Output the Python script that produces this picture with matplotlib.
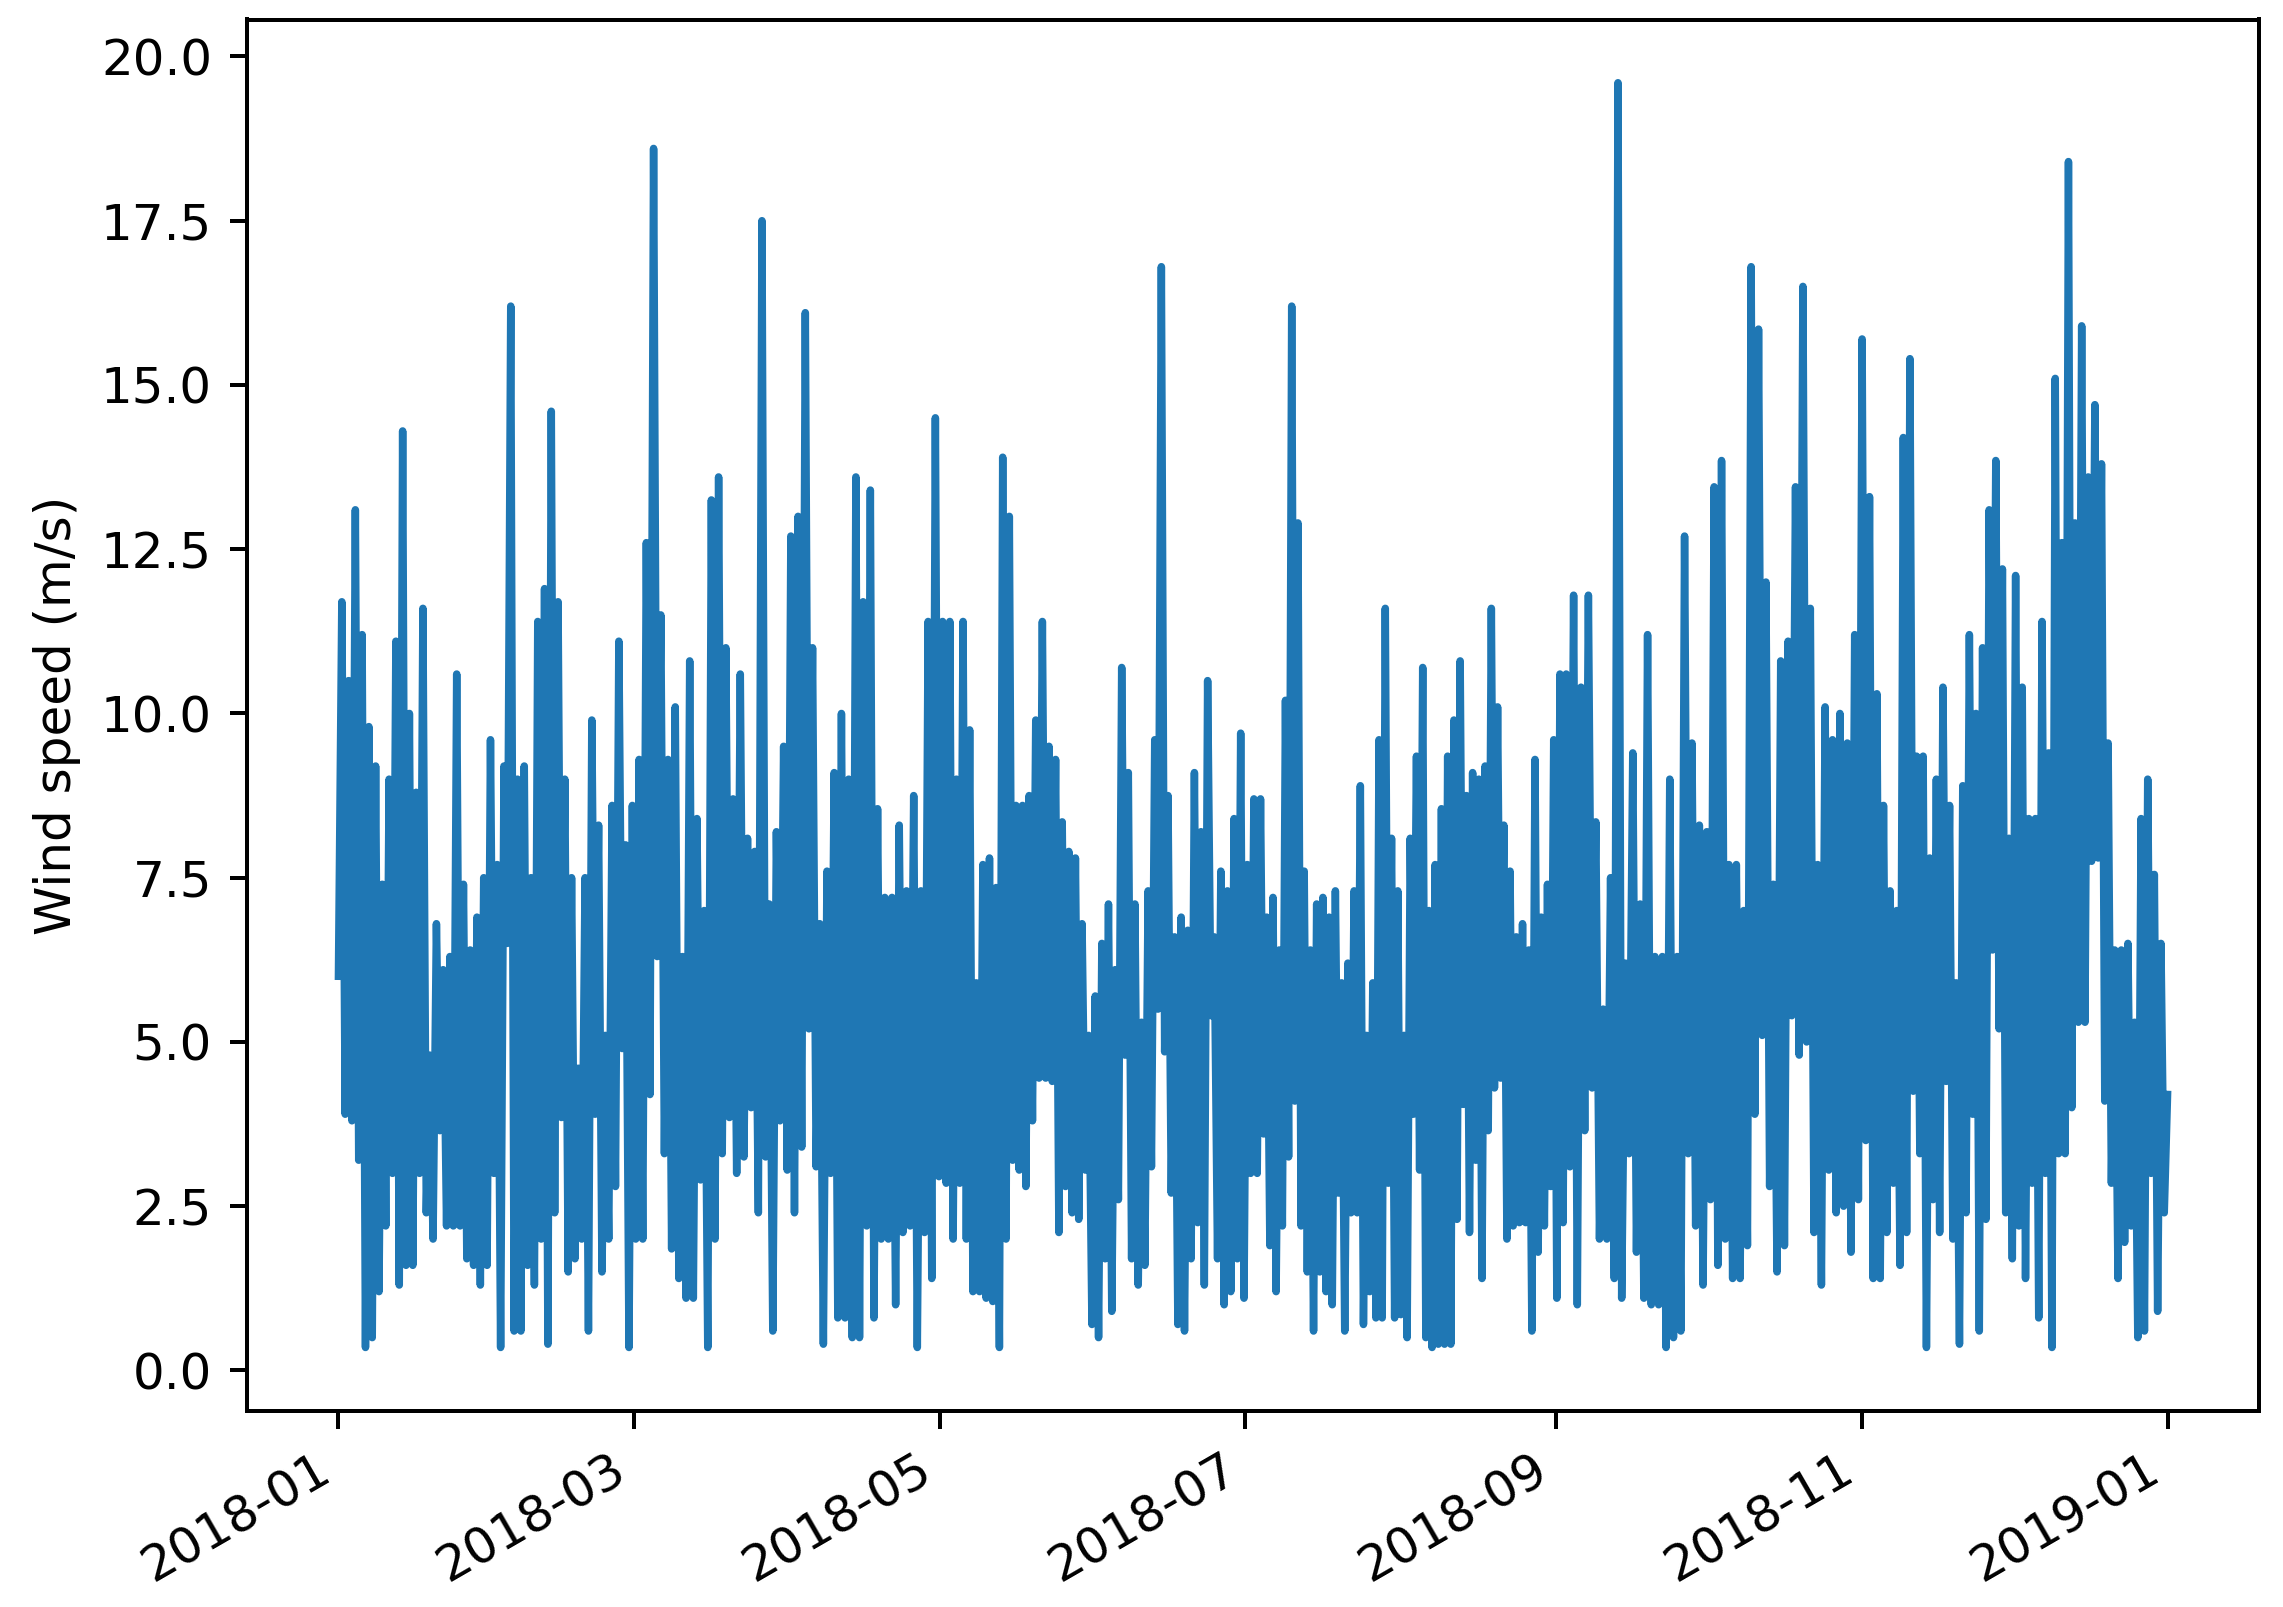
import numpy as np
import pandas as pd
import matplotlib
matplotlib.use("Agg")
import matplotlib.pyplot as plt

# Segment boundary dates (observations spread evenly within each segment)
segment_bounds = ["2018-01-01", "2018-03-02", "2018-05-03", "2018-07-04",
                  "2018-09-03", "2018-11-04", "2019-01-01"]

# Wind speed readings (m/s), alternating local peaks and troughs
jan_feb = [6.0, 11.7, 3.9, 10.5, 3.8, 13.1, 3.2, 11.2, 0.35, 9.8, 0.5, 9.2, 1.2, 7.4, 2.2,
           9.0, 3.0, 11.1, 1.3, 14.3, 1.6, 10.0, 1.6, 8.8, 3.0, 11.6, 2.4, 4.8, 2.0,
           6.8, 3.65, 6.1, 2.2, 6.3, 2.2, 10.6, 2.2, 7.4, 1.7, 6.4, 1.6, 6.9, 1.3,
           7.5, 1.6, 9.6, 3.0, 7.7, 0.35, 9.2, 6.5, 16.2, 0.6, 9.0, 0.6, 9.2, 1.6,
           7.5, 1.3, 11.4, 2.0, 11.9, 0.4, 14.6, 2.4, 11.7, 3.85, 9.0, 1.5, 7.5, 1.7,
           4.6, 2.0, 7.5, 0.6, 9.9, 3.9, 8.3, 1.5, 5.1, 2.0, 8.6, 2.8, 11.1, 4.9,
           8.0, 0.35, 8.6, 2.0]

mar_apr = [9.3, 2.0, 12.6, 4.2, 18.6, 6.3, 11.5, 3.3, 9.3, 1.85, 10.1, 1.4, 6.3, 1.1,
           10.8, 1.1, 8.4, 2.9, 7.0, 0.35, 13.25, 2.0, 13.6, 3.3, 11.0, 3.85, 8.7, 3.0,
           10.6, 3.25, 8.1, 4.0, 7.9, 2.4, 17.5, 3.25, 7.1, 0.6, 8.2, 3.8, 9.5, 3.05,
           12.7, 2.4, 13.0, 3.4, 16.1, 5.2, 11.0, 3.1, 6.8, 0.4, 7.6, 3.0, 9.1, 0.8,
           10.0, 0.8, 9.0, 0.5, 13.6, 0.5, 11.7, 2.2, 13.4, 0.8, 8.55, 2.0, 7.2, 2.0,
           7.2, 1.0, 8.3, 2.1, 7.3, 2.2, 8.75, 0.35, 7.3, 2.1, 11.4, 1.4, 14.5, 2.95,
           11.4, 2.85]

may_jun = [11.4, 2.0, 9.0, 2.85, 11.4, 2.0, 9.75, 1.2, 5.9, 1.2, 7.7, 1.1, 7.8, 1.05,
           7.35, 0.35, 13.9, 2.0, 13.0, 3.2, 8.6, 3.05, 8.6, 2.8, 8.75, 3.8, 9.9, 4.45,
           11.4, 4.45, 9.5, 4.4, 9.3, 2.1, 8.35, 2.8, 7.9, 2.4, 7.8, 2.3, 6.8, 3.05,
           5.1, 0.7, 5.7, 0.5, 6.5, 1.7, 7.1, 0.9, 6.1, 2.6, 10.7, 4.8, 9.1, 1.7,
           7.1, 1.3, 5.3, 1.6, 7.3, 3.1, 9.6, 5.5, 16.8, 4.85, 8.75, 2.7, 6.6, 0.7,
           6.9, 0.6, 6.7, 1.7, 9.1, 2.25, 8.2, 1.3, 10.5, 5.4, 6.6, 1.7, 7.6, 1.0,
           7.3, 1.2, 8.4, 1.7, 9.7, 1.1, 7.7, 3.0, 8.7, 3.0]

jul_aug = [8.7, 3.6, 6.9, 1.9, 7.2, 1.2, 6.4, 2.2, 10.2, 3.25, 16.2, 4.1, 12.9, 2.2,
           7.6, 1.5, 6.4, 0.6, 7.1, 1.5, 7.2, 1.2, 6.9, 1.0, 7.3, 2.7, 5.9, 0.6,
           6.2, 2.4, 7.3, 2.4, 8.9, 0.7, 5.1, 1.2, 5.9, 0.8, 9.6, 0.8, 11.6, 2.85,
           8.1, 0.8, 7.3, 0.85, 5.1, 0.5, 8.1, 3.9, 9.35, 3.05, 10.7, 0.5, 7.0, 0.35,
           7.7, 0.4, 8.55, 0.4, 9.35, 0.4, 9.9, 2.3, 10.8, 4.05, 8.75, 2.1, 9.1, 3.2,
           9.0, 1.4, 9.2, 3.65, 11.6, 4.3, 10.1, 4.45, 8.3, 2.0, 7.6, 2.2, 6.6, 2.25,
           6.8, 2.25, 6.4, 0.6, 9.3, 1.8, 6.9, 2.2, 7.4, 2.8, 9.6, 1.1, 10.6, 2.25]

sep_oct = [10.6, 3.1, 11.8, 1.0, 10.4, 3.65, 11.8, 4.3, 8.35, 2.0, 5.5, 2.0, 7.5, 1.4,
           19.6, 1.1, 6.2, 3.3, 9.4, 1.8, 7.1, 1.1, 11.2, 1.0, 6.3, 1.0, 6.3, 0.35,
           9.0, 0.5, 6.3, 0.6, 12.7, 3.3, 9.55, 2.2, 8.3, 1.3, 8.2, 2.6, 13.45, 1.6,
           13.85, 2.0, 7.7, 1.4, 7.7, 1.4, 7.0, 1.9, 16.8, 3.9, 15.85, 5.1, 12.0, 2.8,
           7.4, 1.5, 10.8, 1.9, 11.1, 5.4, 13.45, 4.8, 16.5, 5.0, 11.6, 2.1, 7.7, 1.3,
           10.1, 3.05, 9.6, 2.4, 10.0, 2.5, 9.55, 1.8, 11.2, 2.6, 15.7, 3.5, 13.3, 1.4]

nov_dec = [10.3, 1.4, 8.6, 2.1, 7.3, 2.85, 7.0, 1.6, 14.2, 2.1, 15.4, 4.25, 9.35, 3.3,
           9.35, 0.35, 7.8, 2.6, 9.0, 2.1, 10.4, 4.4, 8.6, 2.0, 5.9, 0.4, 8.9, 2.4,
           11.2, 3.9, 10.0, 0.6, 11.0, 2.3, 13.1, 6.4, 13.85, 5.2, 12.2, 2.4, 8.1, 1.7,
           12.1, 2.2, 10.4, 1.4, 8.4, 2.85, 8.4, 0.8, 11.4, 3.0, 9.4, 0.35, 15.1, 3.3,
           12.6, 3.3, 18.4, 4.0, 12.9, 5.3, 15.9, 5.3, 13.6, 7.75, 14.7, 7.8, 13.8, 4.1,
           9.55, 2.85, 6.4, 1.4, 6.4, 1.95, 6.5, 2.2, 5.3, 0.5, 8.4, 0.6, 9.0, 3.0,
           7.55, 0.9, 6.5, 2.4, 4.2]

segments = [jan_feb, mar_apr, may_jun, jul_aug, sep_oct, nov_dec]

times = []
values = []
bounds = pd.to_datetime(segment_bounds)
for i, seg in enumerate(segments):
    start = bounds[i].value
    end = bounds[i + 1].value
    last = (i == len(segments) - 1)
    t = np.linspace(start, end, len(seg), endpoint=last)
    times.append(pd.to_datetime(t))
    values.extend(seg)
times = pd.DatetimeIndex(np.concatenate([t.values for t in times]))
series = pd.Series(values, index=times)

fig = plt.figure(figsize=(2283 / 360, 1607 / 360), dpi=360)
ax = fig.add_axes([247 / 2283, 1 - 1410.7 / 1607, (2259 - 247) / 2283, (1410.7 - 19.5) / 1607])
ax.plot(series.index, series.values, color="#1f77b4", linewidth=1.5)
ax.set_ylabel("Wind speed (m/s)")
plt.setp(ax.get_xticklabels(), rotation=30, ha="right")

fig.savefig("out.png", dpi=360)
